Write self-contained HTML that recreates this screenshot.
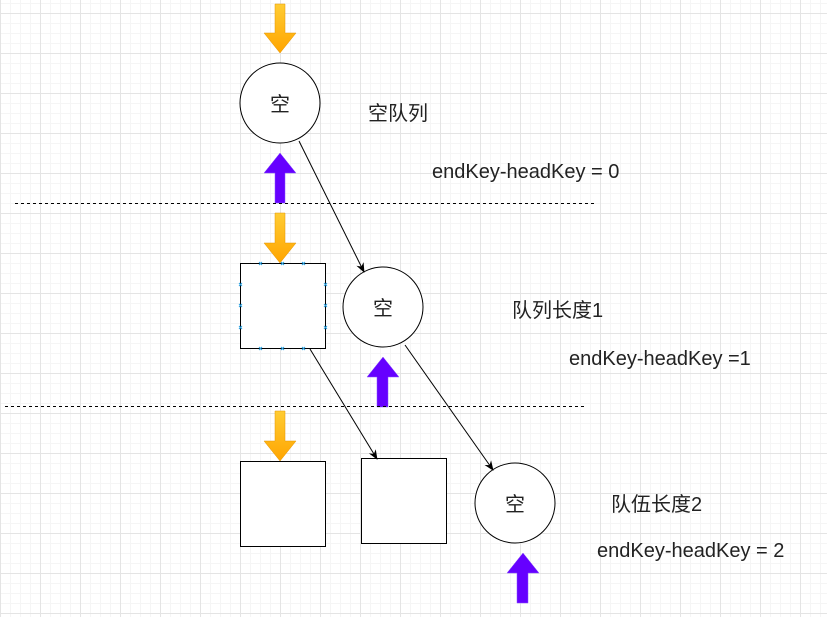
<!DOCTYPE html>
<html><head><meta charset="utf-8"><style>
html,body{margin:0;padding:0}
body{width:827px;height:617px;overflow:hidden;background-color:#fff;
background-image:linear-gradient(#e4e4e4 1px,transparent 1px),linear-gradient(90deg,#e4e4e4 1px,transparent 1px),linear-gradient(#f5f5f5 1px,transparent 1px),linear-gradient(90deg,#f5f5f5 1px,transparent 1px);
background-size:40px 40px,40px 40px,10px 10px,10px 10px;
background-position:0 13px,0 0,0 3px,0 0;}
svg{position:absolute;left:0;top:0}
text{font-family:"Liberation Sans","Noto Sans CJK SC",sans-serif;fill:#222}
</style></head><body>
<svg width="827" height="617" viewBox="0 0 827 617">
<defs>
<linearGradient id="og" x1="0" y1="0" x2="0" y2="1"><stop offset="0" stop-color="#ffcc33"/><stop offset="1" stop-color="#ffa500"/></linearGradient>
<marker id="ah" markerWidth="10" markerHeight="10" refX="9" refY="5" orient="auto" markerUnits="userSpaceOnUse"><path d="M0,1 L10,5 L0,9 L3,5 Z" fill="#000"/></marker>
</defs>
<!-- orange arrows -->
<g fill="url(#og)" stroke="#e59400" stroke-width="0.5">
<path d="M275,4 H285 V33 H296 L280,53 L264,33 H275 Z"/>
<path d="M275,213 H285 V243 H296 L280,263 L264,243 H275 Z"/>
<path d="M275,411 H285 V441 H296 L280,461 L264,441 H275 Z"/>
</g>
<!-- purple arrows -->
<g fill="#6600ff" stroke="#8a55ff" stroke-width="0.5">
<path d="M275,203 H285 V173 H296 L280,153 L264,173 H275 Z"/>
<path d="M377,407 H388 V377 H399 L383,357 L367,377 H377 Z"/>
<path d="M517,603 H528 V573 H539 L523,553 L507,573 H517 Z"/>
</g>
<!-- dashed -->
<line x1="15" y1="203.5" x2="595" y2="203.5" stroke="#000" stroke-dasharray="3,3"/>
<line x1="5" y1="406.5" x2="585" y2="406.5" stroke="#000" stroke-dasharray="3,3"/>
<!-- circles -->
<g fill="#fff" stroke="#000" stroke-width="1">
<circle cx="280" cy="103" r="40"/>
<circle cx="383" cy="307" r="40"/>
<circle cx="515" cy="503" r="40"/>
<rect x="240.5" y="263.5" width="85" height="85"/>
<rect x="240.5" y="461.5" width="85" height="85"/>
<rect x="361.5" y="458.5" width="85" height="85"/>
</g>
<!-- small connection marks -->
<g stroke="#29a0e0" stroke-width="1">
<path d="M259,262 l3,3 m0,-3 l-3,3 M281,262 l3,3 m0,-3 l-3,3 M302,262 l3,3 m0,-3 l-3,3 M259,347 l3,3 m0,-3 l-3,3 M281,347 l3,3 m0,-3 l-3,3 M302,347 l3,3 m0,-3 l-3,3 M239,283 l3,3 m0,-3 l-3,3 M239,304 l3,3 m0,-3 l-3,3 M239,326 l3,3 m0,-3 l-3,3 M324,283 l3,3 m0,-3 l-3,3 M324,304 l3,3 m0,-3 l-3,3 M324,326 l3,3 m0,-3 l-3,3"/>
</g>
<!-- connectors -->
<g stroke="#000" stroke-width="1" fill="none" marker-end="url(#ah)">
<line x1="299" y1="141" x2="364" y2="272"/>
<line x1="310" y1="349" x2="377" y2="459"/>
<line x1="405" y1="345" x2="493" y2="470"/>
</g>
<!-- text -->
<g font-size="20" text-anchor="middle">
<text x="280" y="111">空</text>
<text x="383" y="315">空</text>
<text x="515" y="511">空</text>
</g>
<g font-size="20">
<text x="368" y="120">空队列</text>
<text x="432" y="178">endKey-headKey = 0</text>
<text x="512" y="317">队列长度1</text>
<text x="569" y="365">endKey-headKey =1</text>
<text x="611" y="511">队伍长度2</text>
<text x="597" y="557">endKey-headKey = 2</text>
</g>
</svg>
</body></html>
